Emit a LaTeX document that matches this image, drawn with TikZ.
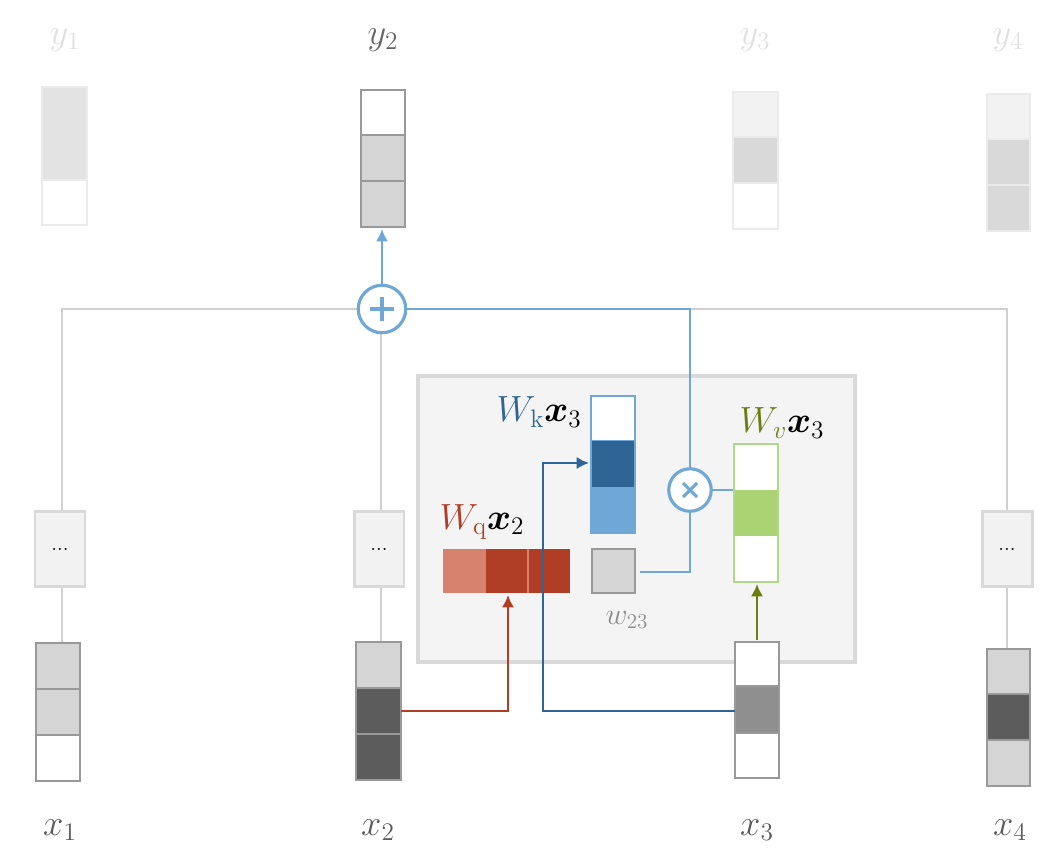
\documentclass[tikz,border=0pt]{standalone}
\usepackage{amsmath,bm}
\usetikzlibrary{arrows.meta}
\begin{document}
\begin{tikzpicture}[x=0.02cm,y=-0.02cm,
  lbl/.style={inner sep=0pt,font=\fontsize{22}{26}\selectfont},
  dots/.style={draw=black!15,fill=black!5,line width=1.7pt,minimum width=1.0cm,minimum height=1.5cm,font=\large},
  conn/.style={line width=1.6pt},
  >={Latex[length=7pt,width=7pt]}]
\definecolor{lb}{HTML}{6FA8D6}\definecolor{db}{HTML}{2E6594}
\definecolor{rd}{HTML}{B03E27}\definecolor{lr}{HTML}{D6826F}
\definecolor{gn}{HTML}{ACD373}\definecolor{gb}{HTML}{B0D98A}\definecolor{ol}{HTML}{6B7D12}
\definecolor{g1}{HTML}{D5D5D5}\definecolor{g2}{HTML}{5C5C5C}\definecolor{g3}{HTML}{8F8F8F}
\definecolor{gl}{HTML}{D0D0D0}\definecolor{bx}{HTML}{999999}
\useasboundingbox (0,0) rectangle (1057,859);
\newcommand\mycell[6]{\fill[#6] (#1,#2) rectangle (#3,#4); \draw[#5,line width=1.3pt] (#1,#2) rectangle (#3,#4);}
% y vectors
\mycell{42}{87}{87}{180}{black!8}{black!11}
\mycell{42}{180}{87}{225}{black!8}{white}
\mycell{361}{90}{405}{135}{bx}{white}
\mycell{361}{135}{405}{181}{bx}{g1}
\mycell{361}{181}{405}{227}{bx}{g1}
\mycell{733}{92}{778}{137}{black!8}{black!5}
\mycell{733}{137}{778}{183}{black!8}{black!15}
\mycell{733}{183}{778}{229}{black!8}{white}
\mycell{987}{94}{1030}{139}{black!8}{black!5}
\mycell{987}{139}{1030}{185}{black!8}{black!15}
\mycell{987}{185}{1030}{231}{black!8}{black!15}
\node[lbl,text=black!12] (y1) at (65,40) {$y_1$};
\node[lbl,text=black!60] (y2) at (383,40) {$y_2$};
\node[lbl,text=black!12] (y3) at (755,40) {$y_3$};
\node[lbl,text=black!12] (y4) at (1008,40) {$y_4$};
% gray structure
\draw[conn,gl] (62,643) -- (62,309) -- (1007,309) -- (1007,649);
\draw[conn,gl] (381,642) -- (381,309);
\node[dots] (d1) at (60,549) {...};
\node[dots] (d2) at (379,549) {...};
\node[dots] (d4) at (1007,549) {...};
% inner box
\draw[black!15,fill=black!4.5,line width=1.8pt] (418,376) rectangle (855,662);
% blue connections
\coordinate (pl) at (382,309);
\coordinate (tm) at (690,490);
\draw[conn,lb] (pl) -- (690,309) -- (tm);
\draw[conn,lb] (tm) -- (734,490);
\draw[conn,lb] (tm) -- (690,572) -- (640,572);
\draw[conn,lb,->] (382,285) -- (382,229);
\node[circle,draw=lb,fill=white,line width=1.8pt,minimum size=0.95cm,inner sep=0pt] (plus) at (pl) {};
\draw[lb,line width=1.8pt] (plus.center)+(-12,0) -- +(12,0) (plus.center)+(0,-12) -- +(0,12);
\node[circle,draw=lb,fill=white,line width=1.8pt,minimum size=0.85cm,inner sep=0pt] (times) at (tm) {};
\draw[lb,line width=1.8pt] (tm)+(-7,-7) -- +(7,7) (tm)+(-7,7) -- +(7,-7);
% Wk x3
\mycell{591}{396}{635}{441}{lb}{white}
\fill[db] (591,441) rectangle (635,487);
\fill[lb] (591,487) rectangle (635,533);
\draw[lb,line width=1.3pt] (591,396) rectangle (635,533);
\node[lbl,anchor=east] (wk) at (582,412) {$\color{db}W_{\mathrm{k}}\color{black}\bm{x}_3$};
% Wv x3
\fill[white] (734,444) rectangle (778,490);
\fill[gn] (734,490) rectangle (778,536);
\fill[white] (734,536) rectangle (778,582);
\draw[gb,line width=1.3pt] (734,444) rectangle (778,582);
\node[lbl] (wv) at (782,423) {$\color{ol}W_{v}\color{black}\bm{x}_3$};
% w23
\mycell{592}{549}{635}{593}{bx}{g1}
\node[lbl,text=black!45,font=\fontsize{18}{22}\selectfont] (w) at (627,620) {$w_{23}$};
% Wq x2
\fill[lr] (443,549) rectangle (486,593);
\fill[rd] (486,549) rectangle (528,593);
\fill[rd] (528,549) rectangle (570,593);
\draw[lr,line width=1pt] (528,549) -- (528,593);
\node[lbl] (wq) at (482,522) {$\color{rd}W_{\mathrm{q}}\color{black}\bm{x}_2$};
% x vectors
\mycell{36}{643}{80}{689}{bx}{g1}
\mycell{36}{689}{80}{735}{bx}{g1}
\mycell{36}{735}{80}{781}{bx}{white}
\mycell{356}{642}{401}{688}{bx}{g1}
\mycell{356}{688}{401}{734}{bx}{g2}
\mycell{356}{734}{401}{780}{bx}{g2}
\mycell{735}{642}{779}{686}{bx}{white}
\mycell{735}{686}{779}{733}{bx}{g3}
\mycell{735}{733}{779}{778}{bx}{white}
\mycell{987}{649}{1030}{694}{bx}{g1}
\mycell{987}{694}{1030}{740}{bx}{g2}
\mycell{987}{740}{1030}{786}{bx}{g1}
\node[lbl,text=black!65] (x1) at (60,830) {$x_1$};
\node[lbl,text=black!65] (x2) at (378,830) {$x_2$};
\node[lbl,text=black!65] (x3) at (757,830) {$x_3$};
\node[lbl,text=black!65] (x4) at (1010,830) {$x_4$};
% arrows
\draw[conn,rd,->] (401,711) -- (508,711) -- (508,595);
\draw[conn,db,->] (735,711) -- (543,711) -- (543,463) -- (589,463);
\draw[conn,ol,->] (757,640) -- (757,584);
\end{tikzpicture}
\end{document}
